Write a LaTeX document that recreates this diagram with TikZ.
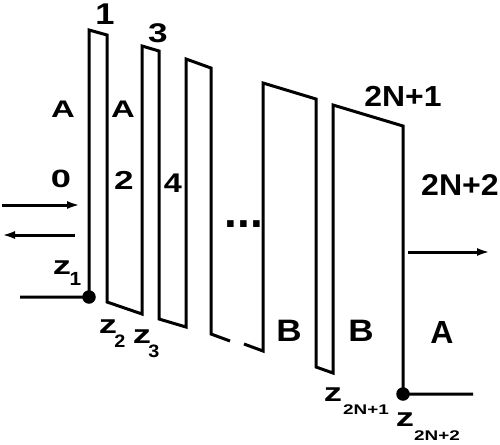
\documentclass[tikz,border=0pt]{standalone}
\usepackage{fontspec}
\setmainfont{Liberation Sans}
\usepackage{graphicx}
\usetikzlibrary{arrows.meta}
\newcommand\lab[3]{\scalebox{#1}[1]{\fontsize{#2}{#2}\selectfont\bfseries #3}}
\begin{document}
\begin{tikzpicture}[x=1pt,y=-1pt,
  txt/.style={inner sep=0pt, anchor=center},
  prof/.style={line width=3pt, line join=miter},
  arrowline/.style={line width=3pt, -{Latex[length=13pt,width=8pt]}},
  dot/.style={circle, fill=black, inner sep=0pt, minimum size=13.5pt}]
\useasboundingbox (0,0) rectangle (500,444);
% potential profile
\coordinate (s) at (20,297);
\node[dot] (d1) at (89,297) {};
\coordinate (b1a) at (89,30);
\coordinate (b1b) at (107,35);
\coordinate (b1c) at (107,302);
\coordinate (w2) at (142,314);
\coordinate (b3a) at (142,46);
\coordinate (b3b) at (159,51);
\coordinate (b3c) at (159,319);
\coordinate (w4) at (186,327);
\coordinate (b5a) at (186,59);
\coordinate (b5b) at (211,68);
\coordinate (b5c) at (211,334);
\coordinate (g1) at (230,341);
\coordinate (g2) at (244,344);
\coordinate (wk) at (263,351);
\coordinate (bka) at (263,83);
\coordinate (bkb) at (316,99);
\coordinate (bkc) at (316,367);
\coordinate (wl) at (333,373);
\coordinate (bna) at (333,105);
\coordinate (bnb) at (403,126);
\node[dot] (d2) at (403,394) {};
\coordinate (e) at (473,394);
\draw[prof] (s) -- (d1.center) -- (b1a) -- (b1b) -- (b1c) -- (w2) -- (b3a) -- (b3b) -- (b3c) -- (w4) -- (b5a) -- (b5b) -- (b5c) -- (g1);
\draw[prof] (g2) -- (wk) -- (bka) -- (bkb) -- (bkc) -- (wl) -- (bna) -- (bnb) -- (d2.center) -- (e);
% incident, reflected and transmitted waves
\coordinate (i0) at (2,205); \coordinate (i1) at (80,205);
\coordinate (r0) at (75,235); \coordinate (r1) at (2,235);
\coordinate (t0) at (408,252); \coordinate (t1) at (490,252);
\draw[arrowline] (i0) -- (i1);
\draw[arrowline] (r0) -- (r1);
\draw[arrowline] (t0) -- (t1);
% labels
\node[txt] (l1) at (105,14) {\lab{1.15}{30}{1}};
\node[txt] (l3) at (158,33) {\lab{1.3}{27}{3}};
\node[txt] (la1) at (63,109) {\lab{1.37}{24}{A}};
\node[txt] (la2) at (123,109) {\lab{1.37}{24}{A}};
\node[txt] (l0) at (61,179) {\lab{1.45}{25}{0}};
\node[txt] (l2) at (124,180) {\lab{1.35}{26}{2}};
\node[txt] (l4) at (173,183) {\lab{1.2}{27}{4}};
\node[txt] (ldots) at (244,224) {\lab{1.0}{46}{...}};
\node[txt] (ln1) at (403,96) {\lab{1.1}{29}{2N+1}};
\node[txt] (ln2) at (460,185) {\lab{1.07}{30}{2N+2}};
\node[txt] (lb1) at (289,331) {\lab{1.13}{31}{B}};
\node[txt] (lb2) at (361,331) {\lab{1.13}{31}{B}};
\node[txt] (la3) at (442,332) {\lab{1.0}{32}{A}};
% z labels
\node[txt] (z1) at (62,268) {\lab{1.4}{26}{z}};
\node[txt] (z1s) at (75.5,279) {\lab{1.1}{19}{1}};
\node[txt] (z2) at (108,327) {\lab{1.4}{26}{z}};
\node[txt] (z2s) at (120,341) {\lab{1.1}{18}{2}};
\node[txt] (z3) at (142,337) {\lab{1.4}{26}{z}};
\node[txt] (z3s) at (154,351) {\lab{1.1}{18}{3}};
\node[txt] (zn1) at (333,395) {\lab{1.4}{26}{z}};
\node[txt] (zn1s) at (366,410) {\lab{1.35}{14}{2N+1}};
\node[txt] (zn2) at (405,420) {\lab{1.4}{26}{z}};
\node[txt] (zn2s) at (437,436) {\lab{1.35}{14}{2N+2}};
\end{tikzpicture}
\end{document}
